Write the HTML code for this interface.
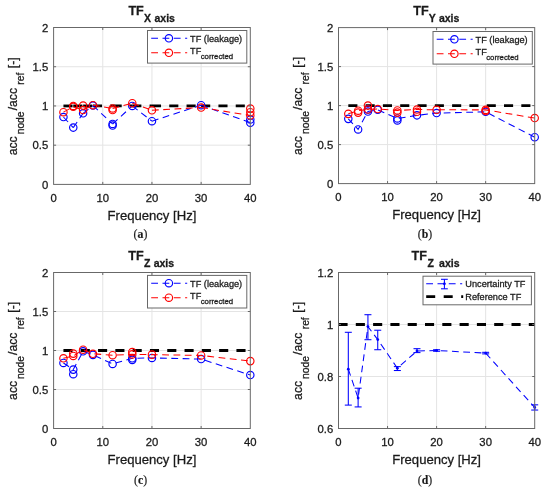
<!DOCTYPE html><html><head><meta charset="utf-8"><style>
html,body{margin:0;padding:0;background:#fff;}
svg{display:block;will-change:transform;}
text{font-family:"Liberation Sans",sans-serif;fill:#1a1a1a;stroke:#1a1a1a;stroke-width:0.28px;}
.tk{font-size:11.3px;}
.xl{font-size:13.1px;}
.yl{font-size:12.2px;}
.yls{font-size:10.3px;}
.ti{font-size:12.6px;font-weight:bold;}
.tis{font-size:10.5px;font-weight:bold;}
.lg{font-size:9.2px;}
.lgs{font-size:7.8px;}
.cap{font-family:"Liberation Serif",serif;font-size:11.8px;stroke-width:0.15px;}
</style></head><body>
<svg width="550" height="491" viewBox="0 0 550 491">
<rect width="550" height="491" fill="#fff"/>
<line x1="102.78" y1="27.5" x2="102.78" y2="184.4" stroke="#e4e4e4" stroke-width="1"/>
<line x1="151.95" y1="27.5" x2="151.95" y2="184.4" stroke="#e4e4e4" stroke-width="1"/>
<line x1="201.13" y1="27.5" x2="201.13" y2="184.4" stroke="#e4e4e4" stroke-width="1"/>
<line x1="53.6" y1="145.18" x2="250.3" y2="145.18" stroke="#e4e4e4" stroke-width="1"/>
<line x1="53.6" y1="105.95" x2="250.3" y2="105.95" stroke="#e4e4e4" stroke-width="1"/>
<line x1="53.6" y1="66.72" x2="250.3" y2="66.72" stroke="#e4e4e4" stroke-width="1"/>
<text x="53.6" y="201.9" class="tk" text-anchor="middle">0</text>
<text x="102.78" y="201.9" class="tk" text-anchor="middle">10</text>
<text x="151.95" y="201.9" class="tk" text-anchor="middle">20</text>
<text x="201.13" y="201.9" class="tk" text-anchor="middle">30</text>
<text x="250.3" y="201.9" class="tk" text-anchor="middle">40</text>
<text x="48.3" y="188.7" class="tk" text-anchor="end">0</text>
<text x="48.3" y="149.48" class="tk" text-anchor="end">0.5</text>
<text x="48.3" y="110.25" class="tk" text-anchor="end">1</text>
<text x="48.3" y="71.02" class="tk" text-anchor="end">1.5</text>
<text x="48.3" y="31.8" class="tk" text-anchor="end">2</text>
<text x="151.95" y="219.8" class="xl" text-anchor="middle">Frequency [Hz]</text>
<text x="140.5" y="238.2" class="cap" text-anchor="middle">(<tspan font-weight="bold">a</tspan>)</text>
<text x="128.4" y="15.1" class="ti">TF</text>
<text x="143.9" y="21.9" class="tis">X</text>
<text x="154.5" y="21.9" class="tis">axis</text>
<text transform="translate(17.3,155.35) rotate(-90)" class="yl">acc</text>
<text transform="translate(23.6,134.35) rotate(-90)" class="yls">node</text>
<text transform="translate(17.3,110.35) rotate(-90)" class="yl">/acc</text>
<text transform="translate(23.6,84.75) rotate(-90)" class="yls">ref</text>
<text transform="translate(17.3,68.15) rotate(-90)" class="yl">[-]</text>
<line x1="63.44" y1="105.95" x2="73.27" y2="105.95" stroke="#000" stroke-width="2.8" stroke-dasharray="9.1 8.2"/>
<line x1="73.27" y1="105.95" x2="83.11" y2="105.95" stroke="#000" stroke-width="2.8" stroke-dasharray="9.1 8.2"/>
<line x1="83.11" y1="105.95" x2="92.94" y2="105.95" stroke="#000" stroke-width="2.8" stroke-dasharray="9.1 8.2"/>
<line x1="92.94" y1="105.95" x2="112.61" y2="105.95" stroke="#000" stroke-width="2.8" stroke-dasharray="9.1 8.2"/>
<line x1="112.61" y1="105.95" x2="132.28" y2="105.95" stroke="#000" stroke-width="2.8" stroke-dasharray="9.1 8.2"/>
<line x1="132.28" y1="105.95" x2="151.95" y2="105.95" stroke="#000" stroke-width="2.8" stroke-dasharray="9.1 8.2"/>
<line x1="151.95" y1="105.95" x2="201.13" y2="105.95" stroke="#000" stroke-width="2.8" stroke-dasharray="9.1 8.2"/>
<line x1="201.13" y1="105.95" x2="250.3" y2="105.95" stroke="#000" stroke-width="2.8" stroke-dasharray="9.1 8.2"/>
<line x1="63.44" y1="117.01" x2="73.27" y2="127.6" stroke="#0000ff" stroke-width="1.05" stroke-dasharray="6.8 4.5"/>
<line x1="73.27" y1="127.6" x2="83.11" y2="113.32" stroke="#0000ff" stroke-width="1.05" stroke-dasharray="6.8 4.5"/>
<line x1="83.11" y1="113.32" x2="92.94" y2="105.56" stroke="#0000ff" stroke-width="1.05" stroke-dasharray="6.8 4.5"/>
<line x1="92.94" y1="105.56" x2="112.61" y2="123.99" stroke="#0000ff" stroke-width="1.05" stroke-dasharray="6.8 4.5"/>
<line x1="112.61" y1="123.99" x2="132.28" y2="105.95" stroke="#0000ff" stroke-width="1.05" stroke-dasharray="6.8 4.5"/>
<line x1="132.28" y1="105.95" x2="151.95" y2="121.17" stroke="#0000ff" stroke-width="1.05" stroke-dasharray="6.8 4.5"/>
<line x1="151.95" y1="121.17" x2="201.13" y2="105.17" stroke="#0000ff" stroke-width="1.05" stroke-dasharray="6.8 4.5"/>
<line x1="201.13" y1="105.17" x2="250.3" y2="122.66" stroke="#0000ff" stroke-width="1.05" stroke-dasharray="6.8 4.5"/>
<circle cx="63.44" cy="117.01" r="3.7" fill="none" stroke="#0000ff" stroke-width="1.15"/>
<circle cx="73.27" cy="127.6" r="3.7" fill="none" stroke="#0000ff" stroke-width="1.15"/>
<circle cx="83.11" cy="113.32" r="3.7" fill="none" stroke="#0000ff" stroke-width="1.15"/>
<circle cx="92.94" cy="105.56" r="3.7" fill="none" stroke="#0000ff" stroke-width="1.15"/>
<circle cx="112.61" cy="123.99" r="3.7" fill="none" stroke="#0000ff" stroke-width="1.15"/>
<circle cx="132.28" cy="105.95" r="3.7" fill="none" stroke="#0000ff" stroke-width="1.15"/>
<circle cx="151.95" cy="121.17" r="3.7" fill="none" stroke="#0000ff" stroke-width="1.15"/>
<circle cx="201.13" cy="105.17" r="3.7" fill="none" stroke="#0000ff" stroke-width="1.15"/>
<circle cx="250.3" cy="122.66" r="3.7" fill="none" stroke="#0000ff" stroke-width="1.15"/>
<circle cx="112.61" cy="125.56" r="3.7" fill="none" stroke="#0000ff" stroke-width="1.15"/>
<circle cx="250.3" cy="119.52" r="3.7" fill="none" stroke="#0000ff" stroke-width="1.15"/>
<line x1="63.44" y1="112.15" x2="73.27" y2="106.81" stroke="#ff0000" stroke-width="1.05" stroke-dasharray="6.8 4.5"/>
<line x1="73.27" y1="106.81" x2="83.11" y2="110.03" stroke="#ff0000" stroke-width="1.05" stroke-dasharray="6.8 4.5"/>
<line x1="83.11" y1="110.03" x2="92.94" y2="105.17" stroke="#ff0000" stroke-width="1.05" stroke-dasharray="6.8 4.5"/>
<line x1="92.94" y1="105.17" x2="112.61" y2="108.46" stroke="#ff0000" stroke-width="1.05" stroke-dasharray="6.8 4.5"/>
<line x1="112.61" y1="108.46" x2="132.28" y2="103.2" stroke="#ff0000" stroke-width="1.05" stroke-dasharray="6.8 4.5"/>
<line x1="132.28" y1="103.2" x2="151.95" y2="110.26" stroke="#ff0000" stroke-width="1.05" stroke-dasharray="6.8 4.5"/>
<line x1="151.95" y1="110.26" x2="201.13" y2="107.52" stroke="#ff0000" stroke-width="1.05" stroke-dasharray="6.8 4.5"/>
<line x1="201.13" y1="107.52" x2="250.3" y2="115.44" stroke="#ff0000" stroke-width="1.05" stroke-dasharray="6.8 4.5"/>
<circle cx="63.44" cy="112.15" r="3.7" fill="none" stroke="#ff0000" stroke-width="1.15"/>
<circle cx="73.27" cy="106.81" r="3.7" fill="none" stroke="#ff0000" stroke-width="1.15"/>
<circle cx="83.11" cy="110.03" r="3.7" fill="none" stroke="#ff0000" stroke-width="1.15"/>
<circle cx="92.94" cy="105.17" r="3.7" fill="none" stroke="#ff0000" stroke-width="1.15"/>
<circle cx="112.61" cy="108.46" r="3.7" fill="none" stroke="#ff0000" stroke-width="1.15"/>
<circle cx="132.28" cy="103.2" r="3.7" fill="none" stroke="#ff0000" stroke-width="1.15"/>
<circle cx="151.95" cy="110.26" r="3.7" fill="none" stroke="#ff0000" stroke-width="1.15"/>
<circle cx="201.13" cy="107.52" r="3.7" fill="none" stroke="#ff0000" stroke-width="1.15"/>
<circle cx="250.3" cy="115.44" r="3.7" fill="none" stroke="#ff0000" stroke-width="1.15"/>
<circle cx="73.27" cy="105.95" r="3.7" fill="none" stroke="#ff0000" stroke-width="1.15"/>
<circle cx="83.11" cy="105.56" r="3.7" fill="none" stroke="#ff0000" stroke-width="1.15"/>
<circle cx="112.61" cy="110.03" r="3.7" fill="none" stroke="#ff0000" stroke-width="1.15"/>
<circle cx="250.3" cy="112.23" r="3.7" fill="none" stroke="#ff0000" stroke-width="1.15"/>
<circle cx="250.3" cy="108.62" r="3.7" fill="none" stroke="#ff0000" stroke-width="1.15"/>
<rect x="53.6" y="27.5" width="196.7" height="156.9" fill="none" stroke="#686868" stroke-width="1"/>
<line x1="102.78" y1="184.4" x2="102.78" y2="181.9" stroke="#686868" stroke-width="1"/>
<line x1="102.78" y1="27.5" x2="102.78" y2="30" stroke="#686868" stroke-width="1"/>
<line x1="151.95" y1="184.4" x2="151.95" y2="181.9" stroke="#686868" stroke-width="1"/>
<line x1="151.95" y1="27.5" x2="151.95" y2="30" stroke="#686868" stroke-width="1"/>
<line x1="201.13" y1="184.4" x2="201.13" y2="181.9" stroke="#686868" stroke-width="1"/>
<line x1="201.13" y1="27.5" x2="201.13" y2="30" stroke="#686868" stroke-width="1"/>
<line x1="53.6" y1="145.18" x2="56.1" y2="145.18" stroke="#686868" stroke-width="1"/>
<line x1="250.3" y1="145.18" x2="247.8" y2="145.18" stroke="#686868" stroke-width="1"/>
<line x1="53.6" y1="105.95" x2="56.1" y2="105.95" stroke="#686868" stroke-width="1"/>
<line x1="250.3" y1="105.95" x2="247.8" y2="105.95" stroke="#686868" stroke-width="1"/>
<line x1="53.6" y1="66.72" x2="56.1" y2="66.72" stroke="#686868" stroke-width="1"/>
<line x1="250.3" y1="66.72" x2="247.8" y2="66.72" stroke="#686868" stroke-width="1"/>
<rect x="147.5" y="30.5" width="99.3" height="32.6" fill="#fff" stroke="#686868" stroke-width="1"/>
<line x1="151.2" y1="38.3" x2="187.2" y2="38.3" stroke="#0000ff" stroke-width="1.05" stroke-dasharray="6.8 4.5"/>
<circle cx="168.9" cy="38.3" r="3.7" fill="none" stroke="#0000ff" stroke-width="1.15"/>
<line x1="151.2" y1="52.8" x2="187.2" y2="52.8" stroke="#ff0000" stroke-width="1.05" stroke-dasharray="6.8 4.5"/>
<circle cx="168.9" cy="52.8" r="3.7" fill="none" stroke="#ff0000" stroke-width="1.15"/>
<text x="190.1" y="41.8" class="lg">TF (leakage)</text>
<text x="190.1" y="54.3" class="lg">TF</text>
<text x="200.7" y="59.2" class="lgs">corrected</text>
<line x1="387.55" y1="27.6" x2="387.55" y2="183.6" stroke="#e4e4e4" stroke-width="1"/>
<line x1="436.6" y1="27.6" x2="436.6" y2="183.6" stroke="#e4e4e4" stroke-width="1"/>
<line x1="485.65" y1="27.6" x2="485.65" y2="183.6" stroke="#e4e4e4" stroke-width="1"/>
<line x1="338.5" y1="144.6" x2="534.7" y2="144.6" stroke="#e4e4e4" stroke-width="1"/>
<line x1="338.5" y1="105.6" x2="534.7" y2="105.6" stroke="#e4e4e4" stroke-width="1"/>
<line x1="338.5" y1="66.6" x2="534.7" y2="66.6" stroke="#e4e4e4" stroke-width="1"/>
<text x="338.5" y="201.1" class="tk" text-anchor="middle">0</text>
<text x="387.55" y="201.1" class="tk" text-anchor="middle">10</text>
<text x="436.6" y="201.1" class="tk" text-anchor="middle">20</text>
<text x="485.65" y="201.1" class="tk" text-anchor="middle">30</text>
<text x="534.7" y="201.1" class="tk" text-anchor="middle">40</text>
<text x="333.2" y="187.9" class="tk" text-anchor="end">0</text>
<text x="333.2" y="148.9" class="tk" text-anchor="end">0.5</text>
<text x="333.2" y="109.9" class="tk" text-anchor="end">1</text>
<text x="333.2" y="70.9" class="tk" text-anchor="end">1.5</text>
<text x="333.2" y="31.9" class="tk" text-anchor="end">2</text>
<text x="436.6" y="219" class="xl" text-anchor="middle">Frequency [Hz]</text>
<text x="425" y="238.2" class="cap" text-anchor="middle">(<tspan font-weight="bold">b</tspan>)</text>
<text x="413.3" y="15.2" class="ti">TF</text>
<text x="428.7" y="22" class="tis">Y</text>
<text x="438.9" y="22" class="tis">axis</text>
<text transform="translate(302.2,155) rotate(-90)" class="yl">acc</text>
<text transform="translate(308.5,134) rotate(-90)" class="yls">node</text>
<text transform="translate(302.2,110) rotate(-90)" class="yl">/acc</text>
<text transform="translate(308.5,84.4) rotate(-90)" class="yls">ref</text>
<text transform="translate(302.2,67.8) rotate(-90)" class="yl">[-]</text>
<polyline points="348.31,105.6 358.12,105.6 367.93,105.6 377.74,105.6 397.36,105.6 416.98,105.6 436.6,105.6 485.65,105.6 534.7,105.6" fill="none" stroke="#000" stroke-width="2.8" stroke-dasharray="9.1 8.2"/>
<polyline points="348.31,118.86 358.12,129.47 367.93,111.53 377.74,109.81 397.36,118.47 416.98,115.35 436.6,113.09 485.65,111.84 534.7,137.19" fill="none" stroke="#0000ff" stroke-width="1.05" stroke-dasharray="6.8 4.5"/>
<circle cx="348.31" cy="118.86" r="3.7" fill="none" stroke="#0000ff" stroke-width="1.15"/>
<circle cx="358.12" cy="129.47" r="3.7" fill="none" stroke="#0000ff" stroke-width="1.15"/>
<circle cx="367.93" cy="111.53" r="3.7" fill="none" stroke="#0000ff" stroke-width="1.15"/>
<circle cx="377.74" cy="109.81" r="3.7" fill="none" stroke="#0000ff" stroke-width="1.15"/>
<circle cx="397.36" cy="118.47" r="3.7" fill="none" stroke="#0000ff" stroke-width="1.15"/>
<circle cx="416.98" cy="115.35" r="3.7" fill="none" stroke="#0000ff" stroke-width="1.15"/>
<circle cx="436.6" cy="113.09" r="3.7" fill="none" stroke="#0000ff" stroke-width="1.15"/>
<circle cx="485.65" cy="111.84" r="3.7" fill="none" stroke="#0000ff" stroke-width="1.15"/>
<circle cx="534.7" cy="137.19" r="3.7" fill="none" stroke="#0000ff" stroke-width="1.15"/>
<circle cx="367.93" cy="109.5" r="3.7" fill="none" stroke="#0000ff" stroke-width="1.15"/>
<circle cx="397.36" cy="120.42" r="3.7" fill="none" stroke="#0000ff" stroke-width="1.15"/>
<polyline points="348.31,113.87 358.12,110.67 367.93,109.5 377.74,109.03 397.36,110.44 416.98,109.5 436.6,109.81 485.65,109.89 534.7,118.08" fill="none" stroke="#ff0000" stroke-width="1.05" stroke-dasharray="6.8 4.5"/>
<circle cx="348.31" cy="113.87" r="3.7" fill="none" stroke="#ff0000" stroke-width="1.15"/>
<circle cx="358.12" cy="110.67" r="3.7" fill="none" stroke="#ff0000" stroke-width="1.15"/>
<circle cx="367.93" cy="109.5" r="3.7" fill="none" stroke="#ff0000" stroke-width="1.15"/>
<circle cx="377.74" cy="109.03" r="3.7" fill="none" stroke="#ff0000" stroke-width="1.15"/>
<circle cx="397.36" cy="110.44" r="3.7" fill="none" stroke="#ff0000" stroke-width="1.15"/>
<circle cx="416.98" cy="109.5" r="3.7" fill="none" stroke="#ff0000" stroke-width="1.15"/>
<circle cx="436.6" cy="109.81" r="3.7" fill="none" stroke="#ff0000" stroke-width="1.15"/>
<circle cx="485.65" cy="109.89" r="3.7" fill="none" stroke="#ff0000" stroke-width="1.15"/>
<circle cx="534.7" cy="118.08" r="3.7" fill="none" stroke="#ff0000" stroke-width="1.15"/>
<circle cx="358.12" cy="112.62" r="3.7" fill="none" stroke="#ff0000" stroke-width="1.15"/>
<circle cx="367.93" cy="105.6" r="3.7" fill="none" stroke="#ff0000" stroke-width="1.15"/>
<circle cx="397.36" cy="112.62" r="3.7" fill="none" stroke="#ff0000" stroke-width="1.15"/>
<circle cx="416.98" cy="111.84" r="3.7" fill="none" stroke="#ff0000" stroke-width="1.15"/>
<circle cx="485.65" cy="111.06" r="3.7" fill="none" stroke="#ff0000" stroke-width="1.15"/>
<rect x="338.5" y="27.6" width="196.2" height="156" fill="none" stroke="#686868" stroke-width="1"/>
<line x1="387.55" y1="183.6" x2="387.55" y2="181.1" stroke="#686868" stroke-width="1"/>
<line x1="387.55" y1="27.6" x2="387.55" y2="30.1" stroke="#686868" stroke-width="1"/>
<line x1="436.6" y1="183.6" x2="436.6" y2="181.1" stroke="#686868" stroke-width="1"/>
<line x1="436.6" y1="27.6" x2="436.6" y2="30.1" stroke="#686868" stroke-width="1"/>
<line x1="485.65" y1="183.6" x2="485.65" y2="181.1" stroke="#686868" stroke-width="1"/>
<line x1="485.65" y1="27.6" x2="485.65" y2="30.1" stroke="#686868" stroke-width="1"/>
<line x1="338.5" y1="144.6" x2="341" y2="144.6" stroke="#686868" stroke-width="1"/>
<line x1="534.7" y1="144.6" x2="532.2" y2="144.6" stroke="#686868" stroke-width="1"/>
<line x1="338.5" y1="105.6" x2="341" y2="105.6" stroke="#686868" stroke-width="1"/>
<line x1="534.7" y1="105.6" x2="532.2" y2="105.6" stroke="#686868" stroke-width="1"/>
<line x1="338.5" y1="66.6" x2="341" y2="66.6" stroke="#686868" stroke-width="1"/>
<line x1="534.7" y1="66.6" x2="532.2" y2="66.6" stroke="#686868" stroke-width="1"/>
<rect x="433" y="31.5" width="99.3" height="32.6" fill="#fff" stroke="#686868" stroke-width="1"/>
<line x1="436.7" y1="39.3" x2="472.7" y2="39.3" stroke="#0000ff" stroke-width="1.05" stroke-dasharray="6.8 4.5"/>
<circle cx="454.4" cy="39.3" r="3.7" fill="none" stroke="#0000ff" stroke-width="1.15"/>
<line x1="436.7" y1="53.8" x2="472.7" y2="53.8" stroke="#ff0000" stroke-width="1.05" stroke-dasharray="6.8 4.5"/>
<circle cx="454.4" cy="53.8" r="3.7" fill="none" stroke="#ff0000" stroke-width="1.15"/>
<text x="475.6" y="42.8" class="lg">TF (leakage)</text>
<text x="475.6" y="55.3" class="lg">TF</text>
<text x="486.2" y="60.2" class="lgs">corrected</text>
<line x1="102.78" y1="272.5" x2="102.78" y2="428.5" stroke="#e4e4e4" stroke-width="1"/>
<line x1="151.95" y1="272.5" x2="151.95" y2="428.5" stroke="#e4e4e4" stroke-width="1"/>
<line x1="201.13" y1="272.5" x2="201.13" y2="428.5" stroke="#e4e4e4" stroke-width="1"/>
<line x1="53.6" y1="389.5" x2="250.3" y2="389.5" stroke="#e4e4e4" stroke-width="1"/>
<line x1="53.6" y1="350.5" x2="250.3" y2="350.5" stroke="#e4e4e4" stroke-width="1"/>
<line x1="53.6" y1="311.5" x2="250.3" y2="311.5" stroke="#e4e4e4" stroke-width="1"/>
<text x="53.6" y="446" class="tk" text-anchor="middle">0</text>
<text x="102.78" y="446" class="tk" text-anchor="middle">10</text>
<text x="151.95" y="446" class="tk" text-anchor="middle">20</text>
<text x="201.13" y="446" class="tk" text-anchor="middle">30</text>
<text x="250.3" y="446" class="tk" text-anchor="middle">40</text>
<text x="48.3" y="432.8" class="tk" text-anchor="end">0</text>
<text x="48.3" y="393.8" class="tk" text-anchor="end">0.5</text>
<text x="48.3" y="354.8" class="tk" text-anchor="end">1</text>
<text x="48.3" y="315.8" class="tk" text-anchor="end">1.5</text>
<text x="48.3" y="276.8" class="tk" text-anchor="end">2</text>
<text x="151.95" y="463.9" class="xl" text-anchor="middle">Frequency [Hz]</text>
<text x="140.5" y="483.6" class="cap" text-anchor="middle">(<tspan font-weight="bold">c</tspan>)</text>
<text x="128.3" y="260.1" class="ti">TF</text>
<text x="144.1" y="266.9" class="tis">Z</text>
<text x="153.7" y="266.9" class="tis">axis</text>
<text transform="translate(17.3,399.9) rotate(-90)" class="yl">acc</text>
<text transform="translate(23.6,378.9) rotate(-90)" class="yls">node</text>
<text transform="translate(17.3,354.9) rotate(-90)" class="yl">/acc</text>
<text transform="translate(23.6,329.3) rotate(-90)" class="yls">ref</text>
<text transform="translate(17.3,312.7) rotate(-90)" class="yl">[-]</text>
<polyline points="63.44,350.5 73.27,350.5 83.11,350.5 92.94,350.5 112.61,350.5 132.28,350.5 151.95,350.5 201.13,350.5 250.3,350.5" fill="none" stroke="#000" stroke-width="2.8" stroke-dasharray="9.1 8.2"/>
<polyline points="63.44,362.98 73.27,369.61 83.11,351.28 92.94,354.87 112.61,363.92 132.28,358.3 151.95,357.91 201.13,359.08 250.3,375.07" fill="none" stroke="#0000ff" stroke-width="1.05" stroke-dasharray="6.8 4.5"/>
<circle cx="63.44" cy="362.98" r="3.7" fill="none" stroke="#0000ff" stroke-width="1.15"/>
<circle cx="73.27" cy="369.61" r="3.7" fill="none" stroke="#0000ff" stroke-width="1.15"/>
<circle cx="83.11" cy="351.28" r="3.7" fill="none" stroke="#0000ff" stroke-width="1.15"/>
<circle cx="92.94" cy="354.87" r="3.7" fill="none" stroke="#0000ff" stroke-width="1.15"/>
<circle cx="112.61" cy="363.92" r="3.7" fill="none" stroke="#0000ff" stroke-width="1.15"/>
<circle cx="132.28" cy="358.3" r="3.7" fill="none" stroke="#0000ff" stroke-width="1.15"/>
<circle cx="151.95" cy="357.91" r="3.7" fill="none" stroke="#0000ff" stroke-width="1.15"/>
<circle cx="201.13" cy="359.08" r="3.7" fill="none" stroke="#0000ff" stroke-width="1.15"/>
<circle cx="250.3" cy="375.07" r="3.7" fill="none" stroke="#0000ff" stroke-width="1.15"/>
<circle cx="73.27" cy="374.21" r="3.7" fill="none" stroke="#0000ff" stroke-width="1.15"/>
<circle cx="132.28" cy="359.86" r="3.7" fill="none" stroke="#0000ff" stroke-width="1.15"/>
<polyline points="63.44,358.3 73.27,355.96 83.11,349.72 92.94,353.78 112.61,355.18 132.28,354.4 151.95,354.63 201.13,355.41 250.3,361.11" fill="none" stroke="#ff0000" stroke-width="1.05" stroke-dasharray="6.8 4.5"/>
<circle cx="63.44" cy="358.3" r="3.7" fill="none" stroke="#ff0000" stroke-width="1.15"/>
<circle cx="73.27" cy="355.96" r="3.7" fill="none" stroke="#ff0000" stroke-width="1.15"/>
<circle cx="83.11" cy="349.72" r="3.7" fill="none" stroke="#ff0000" stroke-width="1.15"/>
<circle cx="92.94" cy="353.78" r="3.7" fill="none" stroke="#ff0000" stroke-width="1.15"/>
<circle cx="112.61" cy="355.18" r="3.7" fill="none" stroke="#ff0000" stroke-width="1.15"/>
<circle cx="132.28" cy="354.4" r="3.7" fill="none" stroke="#ff0000" stroke-width="1.15"/>
<circle cx="151.95" cy="354.63" r="3.7" fill="none" stroke="#ff0000" stroke-width="1.15"/>
<circle cx="201.13" cy="355.41" r="3.7" fill="none" stroke="#ff0000" stroke-width="1.15"/>
<circle cx="250.3" cy="361.11" r="3.7" fill="none" stroke="#ff0000" stroke-width="1.15"/>
<circle cx="73.27" cy="353.62" r="3.7" fill="none" stroke="#ff0000" stroke-width="1.15"/>
<circle cx="132.28" cy="352.06" r="3.7" fill="none" stroke="#ff0000" stroke-width="1.15"/>
<rect x="53.6" y="272.5" width="196.7" height="156" fill="none" stroke="#686868" stroke-width="1"/>
<line x1="102.78" y1="428.5" x2="102.78" y2="426" stroke="#686868" stroke-width="1"/>
<line x1="102.78" y1="272.5" x2="102.78" y2="275" stroke="#686868" stroke-width="1"/>
<line x1="151.95" y1="428.5" x2="151.95" y2="426" stroke="#686868" stroke-width="1"/>
<line x1="151.95" y1="272.5" x2="151.95" y2="275" stroke="#686868" stroke-width="1"/>
<line x1="201.13" y1="428.5" x2="201.13" y2="426" stroke="#686868" stroke-width="1"/>
<line x1="201.13" y1="272.5" x2="201.13" y2="275" stroke="#686868" stroke-width="1"/>
<line x1="53.6" y1="389.5" x2="56.1" y2="389.5" stroke="#686868" stroke-width="1"/>
<line x1="250.3" y1="389.5" x2="247.8" y2="389.5" stroke="#686868" stroke-width="1"/>
<line x1="53.6" y1="350.5" x2="56.1" y2="350.5" stroke="#686868" stroke-width="1"/>
<line x1="250.3" y1="350.5" x2="247.8" y2="350.5" stroke="#686868" stroke-width="1"/>
<line x1="53.6" y1="311.5" x2="56.1" y2="311.5" stroke="#686868" stroke-width="1"/>
<line x1="250.3" y1="311.5" x2="247.8" y2="311.5" stroke="#686868" stroke-width="1"/>
<rect x="147.5" y="275.4" width="99.3" height="32.6" fill="#fff" stroke="#686868" stroke-width="1"/>
<line x1="151.2" y1="283.2" x2="187.2" y2="283.2" stroke="#0000ff" stroke-width="1.05" stroke-dasharray="6.8 4.5"/>
<circle cx="168.9" cy="283.2" r="3.7" fill="none" stroke="#0000ff" stroke-width="1.15"/>
<line x1="151.2" y1="297.7" x2="187.2" y2="297.7" stroke="#ff0000" stroke-width="1.05" stroke-dasharray="6.8 4.5"/>
<circle cx="168.9" cy="297.7" r="3.7" fill="none" stroke="#ff0000" stroke-width="1.15"/>
<text x="190.1" y="286.7" class="lg">TF (leakage)</text>
<text x="190.1" y="299.2" class="lg">TF</text>
<text x="200.7" y="304.1" class="lgs">corrected</text>
<line x1="387.55" y1="272.5" x2="387.55" y2="428.5" stroke="#e4e4e4" stroke-width="1"/>
<line x1="436.6" y1="272.5" x2="436.6" y2="428.5" stroke="#e4e4e4" stroke-width="1"/>
<line x1="485.65" y1="272.5" x2="485.65" y2="428.5" stroke="#e4e4e4" stroke-width="1"/>
<line x1="338.5" y1="376.5" x2="534.7" y2="376.5" stroke="#e4e4e4" stroke-width="1"/>
<line x1="338.5" y1="324.5" x2="534.7" y2="324.5" stroke="#e4e4e4" stroke-width="1"/>
<text x="338.5" y="446" class="tk" text-anchor="middle">0</text>
<text x="387.55" y="446" class="tk" text-anchor="middle">10</text>
<text x="436.6" y="446" class="tk" text-anchor="middle">20</text>
<text x="485.65" y="446" class="tk" text-anchor="middle">30</text>
<text x="534.7" y="446" class="tk" text-anchor="middle">40</text>
<text x="333.2" y="432.8" class="tk" text-anchor="end">0.6</text>
<text x="333.2" y="380.8" class="tk" text-anchor="end">0.8</text>
<text x="333.2" y="328.8" class="tk" text-anchor="end">1</text>
<text x="333.2" y="276.8" class="tk" text-anchor="end">1.2</text>
<text x="436.6" y="463.9" class="xl" text-anchor="middle">Frequency [Hz]</text>
<text x="425" y="483.6" class="cap" text-anchor="middle">(<tspan font-weight="bold">d</tspan>)</text>
<text x="411.5" y="260.1" class="ti">TF</text>
<text x="427.4" y="266.9" class="tis">Z</text>
<text x="439.1" y="266.9" class="tis">axis</text>
<text transform="translate(302.2,399.9) rotate(-90)" class="yl">acc</text>
<text transform="translate(308.5,378.9) rotate(-90)" class="yls">node</text>
<text transform="translate(302.2,354.9) rotate(-90)" class="yl">/acc</text>
<text transform="translate(308.5,329.3) rotate(-90)" class="yls">ref</text>
<text transform="translate(302.2,312.7) rotate(-90)" class="yl">[-]</text>
<polyline points="338.5,324.5 534.7,324.5" fill="none" stroke="#000" stroke-width="2.8" stroke-dasharray="9.1 8.2"/>
<polyline points="348.31,369.22 358.12,398.08 367.93,326.58 377.74,339.58 397.36,368.18 416.98,351.02 436.6,350.5 485.65,353.1 534.7,407.44" fill="none" stroke="#0000ff" stroke-width="1.05" stroke-dasharray="6.8 4.5"/>
<line x1="348.31" y1="405.1" x2="348.31" y2="332.3" stroke="#0000ff" stroke-width="1.05"/>
<line x1="344.81" y1="405.1" x2="351.81" y2="405.1" stroke="#0000ff" stroke-width="1.05"/>
<line x1="344.81" y1="332.3" x2="351.81" y2="332.3" stroke="#0000ff" stroke-width="1.05"/>
<circle cx="348.31" cy="369.22" r="1.4" fill="#0000ff"/>
<line x1="358.12" y1="406.92" x2="358.12" y2="388.2" stroke="#0000ff" stroke-width="1.05"/>
<line x1="354.62" y1="406.92" x2="361.62" y2="406.92" stroke="#0000ff" stroke-width="1.05"/>
<line x1="354.62" y1="388.2" x2="361.62" y2="388.2" stroke="#0000ff" stroke-width="1.05"/>
<circle cx="358.12" cy="398.08" r="1.4" fill="#0000ff"/>
<line x1="367.93" y1="339.71" x2="367.93" y2="314.7" stroke="#0000ff" stroke-width="1.05"/>
<line x1="364.43" y1="339.71" x2="371.43" y2="339.71" stroke="#0000ff" stroke-width="1.05"/>
<line x1="364.43" y1="314.7" x2="371.43" y2="314.7" stroke="#0000ff" stroke-width="1.05"/>
<circle cx="367.93" cy="326.58" r="1.4" fill="#0000ff"/>
<line x1="377.74" y1="349.72" x2="377.74" y2="330.22" stroke="#0000ff" stroke-width="1.05"/>
<line x1="374.24" y1="349.72" x2="381.24" y2="349.72" stroke="#0000ff" stroke-width="1.05"/>
<line x1="374.24" y1="330.22" x2="381.24" y2="330.22" stroke="#0000ff" stroke-width="1.05"/>
<circle cx="377.74" cy="339.58" r="1.4" fill="#0000ff"/>
<line x1="397.36" y1="370.52" x2="397.36" y2="366.62" stroke="#0000ff" stroke-width="1.05"/>
<line x1="393.86" y1="370.52" x2="400.86" y2="370.52" stroke="#0000ff" stroke-width="1.05"/>
<line x1="393.86" y1="366.62" x2="400.86" y2="366.62" stroke="#0000ff" stroke-width="1.05"/>
<circle cx="397.36" cy="368.18" r="1.4" fill="#0000ff"/>
<line x1="416.98" y1="352.58" x2="416.98" y2="348.68" stroke="#0000ff" stroke-width="1.05"/>
<line x1="413.48" y1="352.58" x2="420.48" y2="352.58" stroke="#0000ff" stroke-width="1.05"/>
<line x1="413.48" y1="348.68" x2="420.48" y2="348.68" stroke="#0000ff" stroke-width="1.05"/>
<circle cx="416.98" cy="351.02" r="1.4" fill="#0000ff"/>
<line x1="436.6" y1="351.28" x2="436.6" y2="349.72" stroke="#0000ff" stroke-width="1.05"/>
<line x1="433.1" y1="351.28" x2="440.1" y2="351.28" stroke="#0000ff" stroke-width="1.05"/>
<line x1="433.1" y1="349.72" x2="440.1" y2="349.72" stroke="#0000ff" stroke-width="1.05"/>
<circle cx="436.6" cy="350.5" r="1.4" fill="#0000ff"/>
<line x1="485.65" y1="353.88" x2="485.65" y2="352.32" stroke="#0000ff" stroke-width="1.05"/>
<line x1="482.15" y1="353.88" x2="489.15" y2="353.88" stroke="#0000ff" stroke-width="1.05"/>
<line x1="482.15" y1="352.32" x2="489.15" y2="352.32" stroke="#0000ff" stroke-width="1.05"/>
<circle cx="485.65" cy="353.1" r="1.4" fill="#0000ff"/>
<line x1="534.7" y1="410.04" x2="534.7" y2="404.84" stroke="#0000ff" stroke-width="1.05"/>
<line x1="531.2" y1="410.04" x2="538.2" y2="410.04" stroke="#0000ff" stroke-width="1.05"/>
<line x1="531.2" y1="404.84" x2="538.2" y2="404.84" stroke="#0000ff" stroke-width="1.05"/>
<circle cx="534.7" cy="407.44" r="1.4" fill="#0000ff"/>
<rect x="338.5" y="272.5" width="196.2" height="156" fill="none" stroke="#686868" stroke-width="1"/>
<line x1="387.55" y1="428.5" x2="387.55" y2="426" stroke="#686868" stroke-width="1"/>
<line x1="387.55" y1="272.5" x2="387.55" y2="275" stroke="#686868" stroke-width="1"/>
<line x1="436.6" y1="428.5" x2="436.6" y2="426" stroke="#686868" stroke-width="1"/>
<line x1="436.6" y1="272.5" x2="436.6" y2="275" stroke="#686868" stroke-width="1"/>
<line x1="485.65" y1="428.5" x2="485.65" y2="426" stroke="#686868" stroke-width="1"/>
<line x1="485.65" y1="272.5" x2="485.65" y2="275" stroke="#686868" stroke-width="1"/>
<line x1="338.5" y1="376.5" x2="341" y2="376.5" stroke="#686868" stroke-width="1"/>
<line x1="534.7" y1="376.5" x2="532.2" y2="376.5" stroke="#686868" stroke-width="1"/>
<line x1="338.5" y1="324.5" x2="341" y2="324.5" stroke="#686868" stroke-width="1"/>
<line x1="534.7" y1="324.5" x2="532.2" y2="324.5" stroke="#686868" stroke-width="1"/>
<rect x="423" y="276.2" width="108.4" height="28.6" fill="#fff" stroke="#686868" stroke-width="1"/>
<line x1="426.2" y1="283.8" x2="462.2" y2="283.8" stroke="#0000ff" stroke-width="1.05" stroke-dasharray="6.8 4.5"/>
<line x1="444.4" y1="279.3" x2="444.4" y2="288.8" stroke="#0000ff" stroke-width="1.05"/>
<line x1="441" y1="279.3" x2="447.8" y2="279.3" stroke="#0000ff" stroke-width="1.05"/>
<line x1="441" y1="288.8" x2="447.8" y2="288.8" stroke="#0000ff" stroke-width="1.05"/>
<circle cx="444.4" cy="283.8" r="1.4" fill="#0000ff"/>
<line x1="426.2" y1="296.7" x2="463.2" y2="296.7" stroke="#000" stroke-width="2.8" stroke-dasharray="9 8.5"/>
<text x="465.3" y="287.3" class="lg">Uncertainty TF</text>
<text x="465.3" y="300.2" class="lg">Reference TF</text>
</svg></body></html>
